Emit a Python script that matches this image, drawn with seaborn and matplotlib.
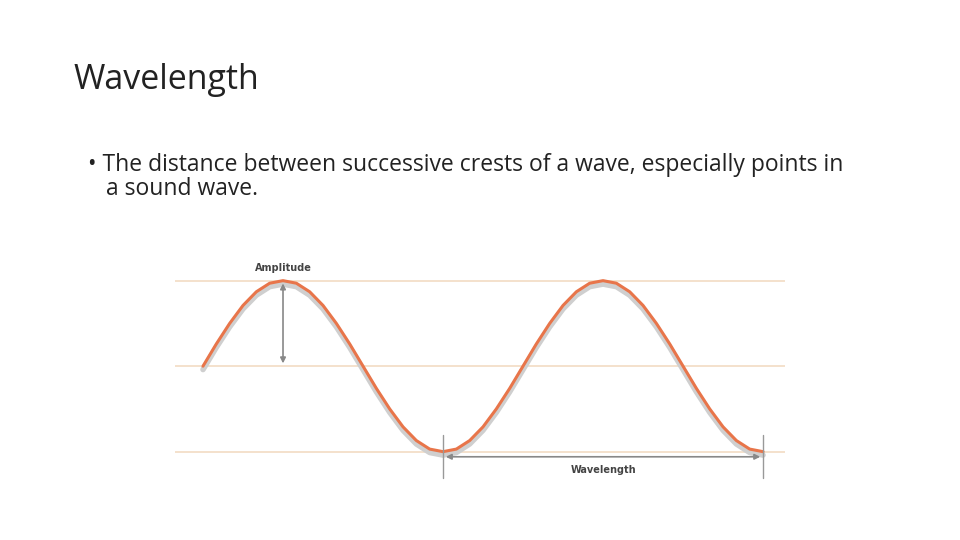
import matplotlib
matplotlib.use("Agg")
import matplotlib.pyplot as plt
import seaborn as sns
import pandas as pd

# wave samples: phase in degrees, displacement in amplitudes
phase = list(range(0, 631, 15))
displacement = [0.00, 0.26, 0.50, 0.71, 0.87, 0.97, 1.00, 0.97, 0.87, 0.71, 0.50, 0.26,
                0.00, -0.26, -0.50, -0.71, -0.87, -0.97, -1.00, -0.97, -0.87, -0.71, -0.50, -0.26,
                0.00, 0.26, 0.50, 0.71, 0.87, 0.97, 1.00, 0.97, 0.87, 0.71, 0.50, 0.26,
                0.00, -0.26, -0.50, -0.71, -0.87, -0.97, -1.00]
guide_levels = [1.0, 0.0, -1.0]
wavelength_span = [270, 630]
amplitude_at = 90

title = "Wavelength"
bullet = "• The distance between successive crests of a wave, especially points in\n   a sound wave."

sns.set_style("white")
plt.rcParams["font.family"] = ["Open Sans", "DejaVu Sans"]

fig = plt.figure(figsize=(9.6, 5.4), dpi=100)
fig.text(73 / 960, 1 - 80 / 540, title, fontsize=24.5, va="center", ha="left", color="#222222")
fig.text(88 / 960, 1 - 177 / 540, bullet, fontsize=16.5, va="center", ha="left",
         color="#222222", linespacing=1.05)

ax = fig.add_axes([175 / 960, 55 / 540, 610 / 960, 230 / 540])
df = pd.DataFrame({"phase": phase, "disp": displacement})
for lvl in guide_levels:
    ax.axhline(lvl, color="#f2dcc3", lw=1.2, zorder=0)
shadow = df.assign(disp=df["disp"] - 0.04)
sns.lineplot(data=shadow, x="phase", y="disp", ax=ax, color="#cfcfcf", lw=4, zorder=1)
sns.lineplot(data=df, x="phase", y="disp", ax=ax, color="#e8754a", lw=2.2, zorder=2)

# amplitude arrow
ax.annotate("", xy=(amplitude_at, 1.0), xytext=(amplitude_at, 0.0),
            arrowprops=dict(arrowstyle="<|-|>", color="#888888", lw=1.2, mutation_scale=8))
ax.text(amplitude_at, 1.15, "Amplitude", ha="center", va="center", fontsize=7,
        fontweight="bold", color="#444444", family="DejaVu Sans")

# wavelength markers
for xv in wavelength_span:
    ax.plot([xv, xv], [-0.81, -1.31], color="#999999", lw=1)
ax.annotate("", xy=(wavelength_span[0], -1.06), xytext=(wavelength_span[1], -1.06),
            arrowprops=dict(arrowstyle="<|-|>", color="#888888", lw=1.2, mutation_scale=8))
ax.text(sum(wavelength_span) / 2, -1.22, "Wavelength", ha="center", va="center", fontsize=7,
        fontweight="bold", color="#444444", family="DejaVu Sans")

ax.set_xlim(-31.5, 654.7)
ax.set_ylim(-1.39, 1.30)
ax.axis("off")

fig.savefig("out.png", dpi=100)
